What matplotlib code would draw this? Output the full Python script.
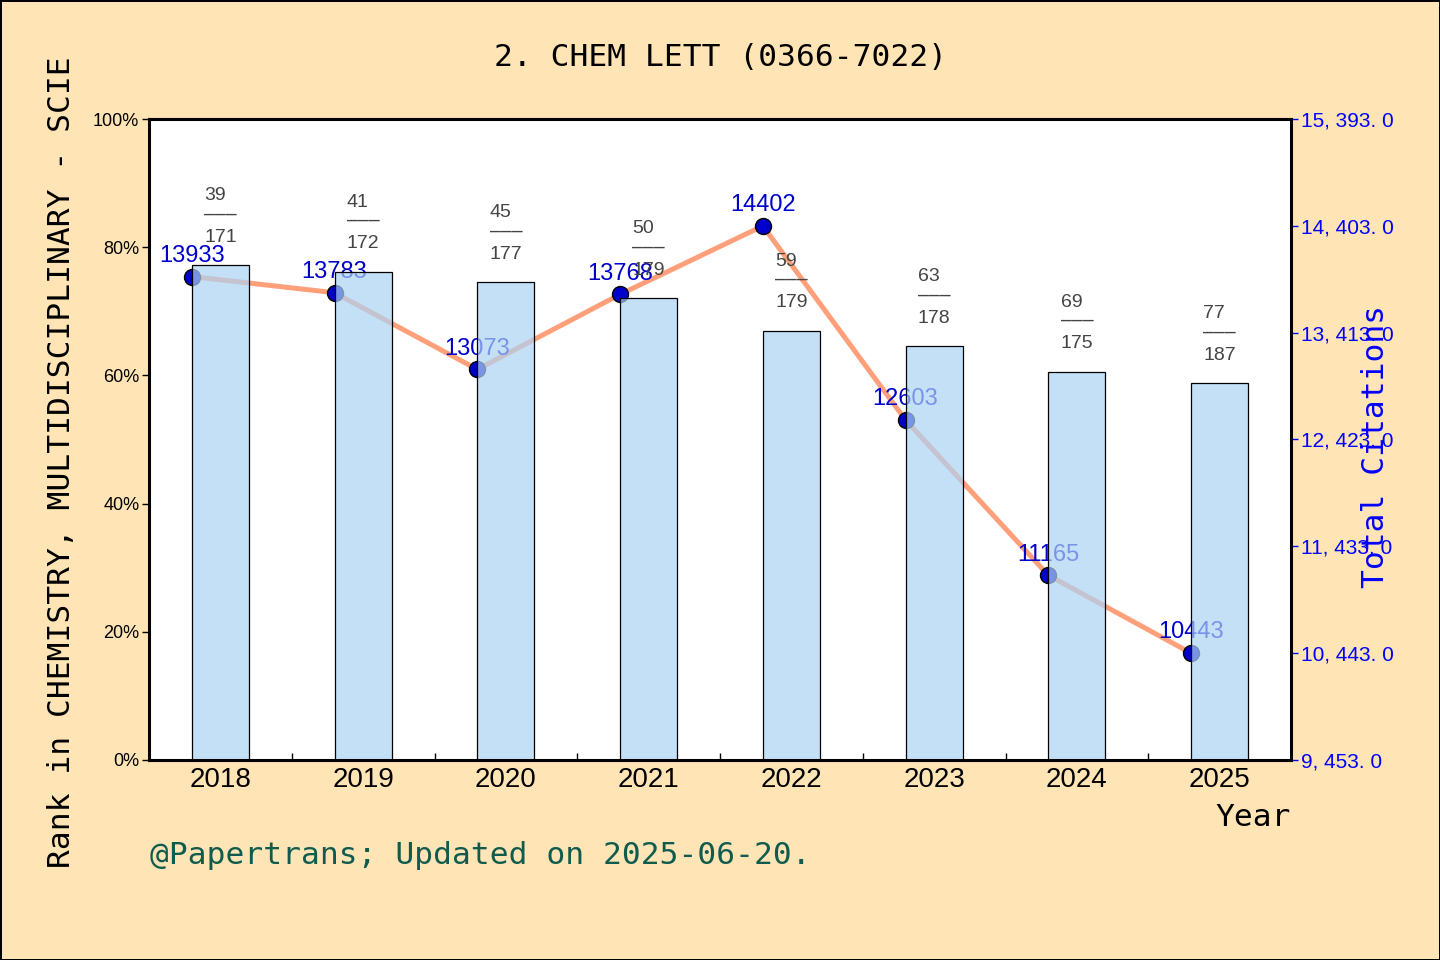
import numpy as np
import matplotlib
matplotlib.use("Agg")
import matplotlib.pyplot as plt
from matplotlib.colors import to_rgba

# =========================
# DATA
# =========================
years = ["2018", "2019", "2020", "2021", "2022", "2023", "2024", "2025"]
rank_num = [39, 41, 45, 50, 59, 63, 69, 77]
rank_total = [171, 172, 177, 179, 179, 178, 175, 187]
rank_pct = [77.2, 76.2, 74.6, 72.1, 67.0, 64.6, 60.6, 58.8]
citations = [13933, 13783, 13073, 13768, 14402, 12603, 11165, 10443]
cite_ticks = [9453, 10443, 11433, 12423, 13413, 14403, 15393]
pct_ticks = [0, 20, 40, 60, 80, 100]

title = "2. CHEM LETT (0366-7022)"
left_label = "Rank in CHEMISTRY, MULTIDISCIPLINARY - SCIE"
footer = "@Papertrans; Updated on 2025-06-20."

MONO = "DejaVu Sans Mono"
plt.rcParams["font.family"] = ["Liberation Sans", "DejaVu Sans"]

bg = "#ffe4b5"

fig = plt.figure(figsize=(14.4, 9.6), dpi=100, facecolor=bg)
fig.patch.set_edgecolor("black")
fig.patch.set_linewidth(2)

ax = fig.add_axes([149 / 1440, 1 - 760 / 960, 1142 / 1440, 641 / 960])
ax2 = ax.twinx()
# bars sit on top of the line
ax.set_zorder(ax2.get_zorder() + 1)
ax.patch.set_visible(False)
ax2.patch.set_visible(True)
ax2.patch.set_facecolor("white")

x = np.arange(len(years))

# =========================
# BARS (rank percentile)
# =========================
ax.bar(x, rank_pct, width=0.4, facecolor=to_rgba("#acd3f4", 0.7),
       edgecolor="black", linewidth=0.9)

gray = "#444444"
for i in range(len(years)):
    top = (x[i], rank_pct[i] + 3)
    ax.annotate(str(rank_total[i]), top, xytext=(0, 0), textcoords="offset points",
                ha="center", va="bottom", fontsize=14, color=gray)
    ax.annotate("\u2013\u2013\u2013", top, xytext=(0, 16), textcoords="offset points",
                ha="center", va="bottom", fontsize=13, color=gray, family=MONO)
    ax.annotate(str(rank_num[i]), top, xytext=(-11.7, 30), textcoords="offset points",
                ha="left", va="bottom", fontsize=14, color=gray)

ax.set_xlim(-0.5, len(years) - 0.5)
ax.set_ylim(0, 100)
ax.set_xticks(x)
ax.set_xticklabels(years, fontsize=20)
ax.set_xticks(x[:-1] + 0.5, minor=True)
ax.tick_params(axis="x", which="major", length=0, pad=5)
ax.tick_params(axis="x", which="minor", direction="in", length=5, width=1)
ax.set_yticks(pct_ticks)
ax.set_yticklabels([f"{v}%" for v in pct_ticks], fontsize=13)
ax.tick_params(axis="y", direction="out", length=5, width=1, pad=2)
for s in ax.spines.values():
    s.set_linewidth(2.2)

# =========================
# LINE (total citations)
# =========================
ax2.plot(x - 0.2, citations, color="#ffa07a", lw=3.6, marker="o",
         ms=11.5, mfc="#0000cd", mec="black", mew=1)
for i in range(len(years)):
    ax2.annotate(str(citations[i]), (x[i] - 0.2, citations[i]),
                 xytext=(0, 7), textcoords="offset points",
                 ha="center", va="bottom", fontsize=17, color="#0000cd")

ax2.set_ylim(cite_ticks[0], cite_ticks[-1])
ax2.set_yticks(cite_ticks)
ax2.set_yticklabels([f"{v:,.1f}".replace(",", ", ").replace(".", ". ")
                     for v in cite_ticks], fontsize=15)
ax2.tick_params(axis="y", colors="blue", direction="out", length=5,
                width=1, pad=2)
for s in ax2.spines.values():
    s.set_visible(False)

# =========================
# TEXTS
# =========================
fig.text(0.5, 1 - 57 / 960, title, ha="center", va="center",
         fontsize=22.5, family=MONO)
fig.text(62 / 1440, 1 - 462 / 960, left_label, rotation=90,
         ha="center", va="center", fontsize=22.5, family=MONO)
fig.text(1375 / 1440, 1 - 446 / 960, "Total Citations", rotation=90,
         ha="center", va="center", fontsize=22.5, family=MONO, color="blue")
fig.text(1291 / 1440, 1 - 817 / 960, "Year", ha="right", va="center",
         fontsize=22.5, family=MONO)
fig.text(150 / 1440, 1 - 855 / 960, footer, ha="left", va="center",
         fontsize=22.5, family=MONO, color="#0f5c4f")

fig.savefig("out.png", dpi=100, facecolor=fig.get_facecolor(),
            edgecolor="black")
